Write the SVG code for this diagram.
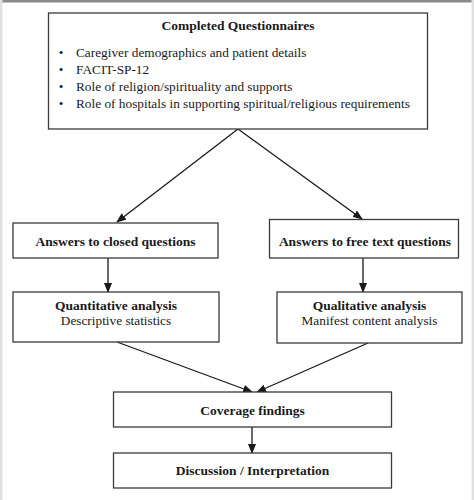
<svg xmlns="http://www.w3.org/2000/svg" width="474" height="500" viewBox="0 0 474 500">
<defs>
<marker id="ah" markerWidth="10" markerHeight="8" refX="9" refY="4" orient="auto" markerUnits="userSpaceOnUse">
<path d="M0,0 L10,4 L0,8 Z" fill="#1a1a1a"/>
</marker>
</defs>
<style>
.box{fill:#fff;stroke:#3a3a3a;stroke-width:1.3}
.t{font-family:"Liberation Serif","Times New Roman",serif;font-size:13.3px;fill:#1a1a1a}
.b{font-weight:bold;font-size:13.5px}
.c{stroke:#1a1a1a;stroke-width:1.3;fill:none;marker-end:url(#ah)}
</style>
<rect width="474" height="500" fill="#fff"/>
<rect x="0" y="0" width="474" height="2.5" fill="#8a8a8a"/>
<rect x="0" y="0" width="2.5" height="500" fill="#e0e0e0"/>
<rect x="471.5" y="0" width="2.5" height="500" fill="#e0e0e0"/>
<g id="connectors">
<line class="c" x1="238" y1="129" x2="117" y2="222"/>
<line class="c" x1="238" y1="129" x2="362" y2="219"/>
<line class="c" x1="108" y1="258" x2="108" y2="292"/>
<line class="c" x1="363" y1="258" x2="363" y2="292"/>
<line class="c" x1="117" y1="342" x2="252" y2="392"/>
<line class="c" x1="368" y1="343" x2="257" y2="392"/>
<line class="c" x1="252" y1="427" x2="252" y2="453"/>
</g>
<g id="questionnaires">
<rect class="box" x="48.5" y="13" width="379" height="116"/>
<text class="t b" x="238" y="30" text-anchor="middle">Completed Questionnaires</text>
<g class="t">
<text x="61" y="57" text-anchor="middle">•</text>
<text x="76" y="57">Caregiver demographics and patient details</text>
<text x="61" y="74" text-anchor="middle">•</text>
<text x="76" y="74">FACIT-SP-12</text>
<text x="61" y="91" text-anchor="middle">•</text>
<text x="76" y="91">Role of religion/spirituality and supports</text>
<text x="61" y="108" text-anchor="middle">•</text>
<text x="76" y="108">Role of hospitals in supporting spiritual/religious requirements</text>
</g>
</g>
<g id="closed">
<rect class="box" x="13" y="223" width="205" height="35"/>
<text class="t b" x="115.5" y="245.5" text-anchor="middle">Answers to closed questions</text>
</g>
<g id="free">
<rect class="box" x="269.5" y="219.5" width="189" height="38.5"/>
<text class="t b" x="365" y="245.5" text-anchor="middle">Answers to free text questions</text>
</g>
<g id="quant">
<rect class="box" x="13" y="292" width="206" height="50"/>
<text class="t b" x="116" y="310" text-anchor="middle">Quantitative analysis</text>
<text class="t" x="116" y="325" text-anchor="middle">Descriptive statistics</text>
</g>
<g id="qual">
<rect class="box" x="277" y="292" width="185" height="51"/>
<text class="t b" x="369.5" y="310" text-anchor="middle">Qualitative analysis</text>
<text class="t" x="369.5" y="325" text-anchor="middle">Manifest content analysis</text>
</g>
<g id="coverage">
<rect class="box" x="113.5" y="392" width="278" height="35"/>
<text class="t b" x="252.5" y="414.5" text-anchor="middle">Coverage findings</text>
</g>
<g id="discussion">
<rect class="box" x="113.5" y="453" width="278" height="35"/>
<text class="t b" x="252.5" y="474.5" text-anchor="middle">Discussion / Interpretation</text>
</g>
</svg>
